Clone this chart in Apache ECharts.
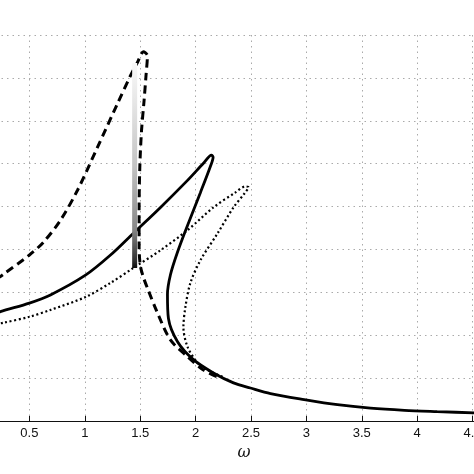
<!DOCTYPE html>
<html>
<head>
<meta charset="utf-8">
<script src="https://cdn.jsdelivr.net/npm/echarts@6/dist/echarts.min.js"></script>
<style>html,body{margin:0;padding:0;background:#fff}#c{width:474px;height:474px}</style>
</head>
<body>
<div id="c"></div>
<script>
// x ticks (omega)
var xTicks = [0, 0.5, 1, 1.5, 2, 2.5, 3, 3.5, 4, 4.5, 5];

// solid curve
var solidW = [0.2, 0.238, 0.5, 0.69, 1.006, 1.232, 1.439, 1.683, 1.927, 2.071, 2.143, 2.158, 2.134, 2.044, 1.927, 1.837, 1.773, 1.746, 1.755, 1.837, 1.981, 2.161, 2.342, 2.495, 2.676, 2.98, 3.28, 3.578, 3.885, 4.18, 4.516, 4.7];
var solidA = [2.50, 2.55, 2.75, 2.94, 3.40, 3.87, 4.38, 4.98, 5.61, 6.01, 6.20, 6.15, 5.94, 5.33, 4.56, 3.94, 3.41, 2.95, 2.39, 1.85, 1.43, 1.12, 0.89, 0.77, 0.64, 0.50, 0.38, 0.30, 0.25, 0.22, 0.19, 0.18];

// dashed curve
var dashW = [0.2, 0.265, 0.5, 0.627, 0.78, 0.934, 1.114, 1.295, 1.412, 1.475, 1.529, 1.565, 1.552, 1.535, 1.512, 1.497, 1.49, 1.49, 1.5, 1.525, 1.565, 1.656, 1.773, 1.927, 2.071, 2.224];
var dashA = [3.30, 3.42, 3.87, 4.17, 4.68, 5.38, 6.38, 7.40, 8.05, 8.36, 8.61, 8.52, 8.04, 7.47, 6.77, 5.96, 4.91, 4.10, 3.64, 3.38, 3.10, 2.52, 1.89, 1.50, 1.19, 1.00];

// dotted curve
var dotW = [0.2, 0.265, 0.5, 0.69, 1.006, 1.232, 1.439, 1.683, 1.927, 2.161, 2.36, 2.45, 2.478, 2.442, 2.342, 2.197, 2.044, 1.953, 1.908, 1.89, 1.927, 2.017, 2.107, 2.243];
var dotA = [2.26, 2.29, 2.43, 2.59, 2.89, 3.22, 3.57, 3.98, 4.45, 4.98, 5.33, 5.47, 5.45, 5.31, 4.98, 4.37, 3.75, 3.22, 2.66, 2.19, 1.73, 1.36, 1.19, 1.03];

// gray gradient bar
var barW = [1.45, 1.45];
var barA = [3.57, 8.35];

function zip(a, b) { return a.map(function (v, i) { return [v, b[i]]; }); }

var chart = echarts.init(document.getElementById('c'), null, {renderer: 'canvas'});
chart.setOption({
  animation: false,
  backgroundColor: '#fff',
  grid: {left: -26, right: -54, top: 35, bottom: 53, containLabel: false, outerBoundsMode: 'none'},
  xAxis: {
    type: 'value', min: xTicks[0], max: xTicks[xTicks.length - 1], interval: 0.5,
    name: 'ω', nameLocation: 'middle', nameGap: 24,
    nameTextStyle: {fontFamily: 'DejaVu Serif', fontStyle: 'italic', fontSize: 16, color: '#111', padding: [0, 14, 0, 0]},
    axisLine: {show: true, lineStyle: {color: '#111', width: 1}},
    axisTick: {show: true, inside: true, length: 5, lineStyle: {color: '#111'}},
    axisLabel: {color: '#111', fontFamily: 'Liberation Sans', fontSize: 13, margin: 6},
    splitLine: {show: true, lineStyle: {color: '#aaa', type: [1.5, 4], width: 1}}
  },
  yAxis: {
    type: 'value', min: 0, max: 9, interval: 1,
    axisLine: {show: false}, axisTick: {show: false}, axisLabel: {show: false},
    splitLine: {show: true, lineStyle: {color: '#aaa', type: [1.5, 4], width: 1}}
  },
  series: [
    {type: 'line', data: zip(dotW, dotA), smooth: 0.3, symbol: 'none', lineStyle: {color: '#000', width: 2.2, type: [2, 2.6]}},
    {type: 'line', data: zip(dashW, dashA), smooth: 0.3, symbol: 'none', lineStyle: {color: '#000', width: 3, type: [8, 5]}},
    {type: 'line', data: zip(solidW, solidA), smooth: 0.3, symbol: 'none', lineStyle: {color: '#000', width: 2.8}},
    {type: 'line', data: zip(barW, barA), symbol: 'none', z: 5, lineStyle: {width: 5, cap: 'butt',
      color: new echarts.graphic.LinearGradient(0, 1, 0, 0, [
        {offset: 0, color: '#000'}, {offset: 0.05, color: '#333'}, {offset: 0.2, color: '#888'},
        {offset: 0.5, color: '#c4c4c4'}, {offset: 0.8, color: '#e6e6e6'}, {offset: 1, color: '#fafafa'}])}}
  ]
});
</script>
</body>
</html>
